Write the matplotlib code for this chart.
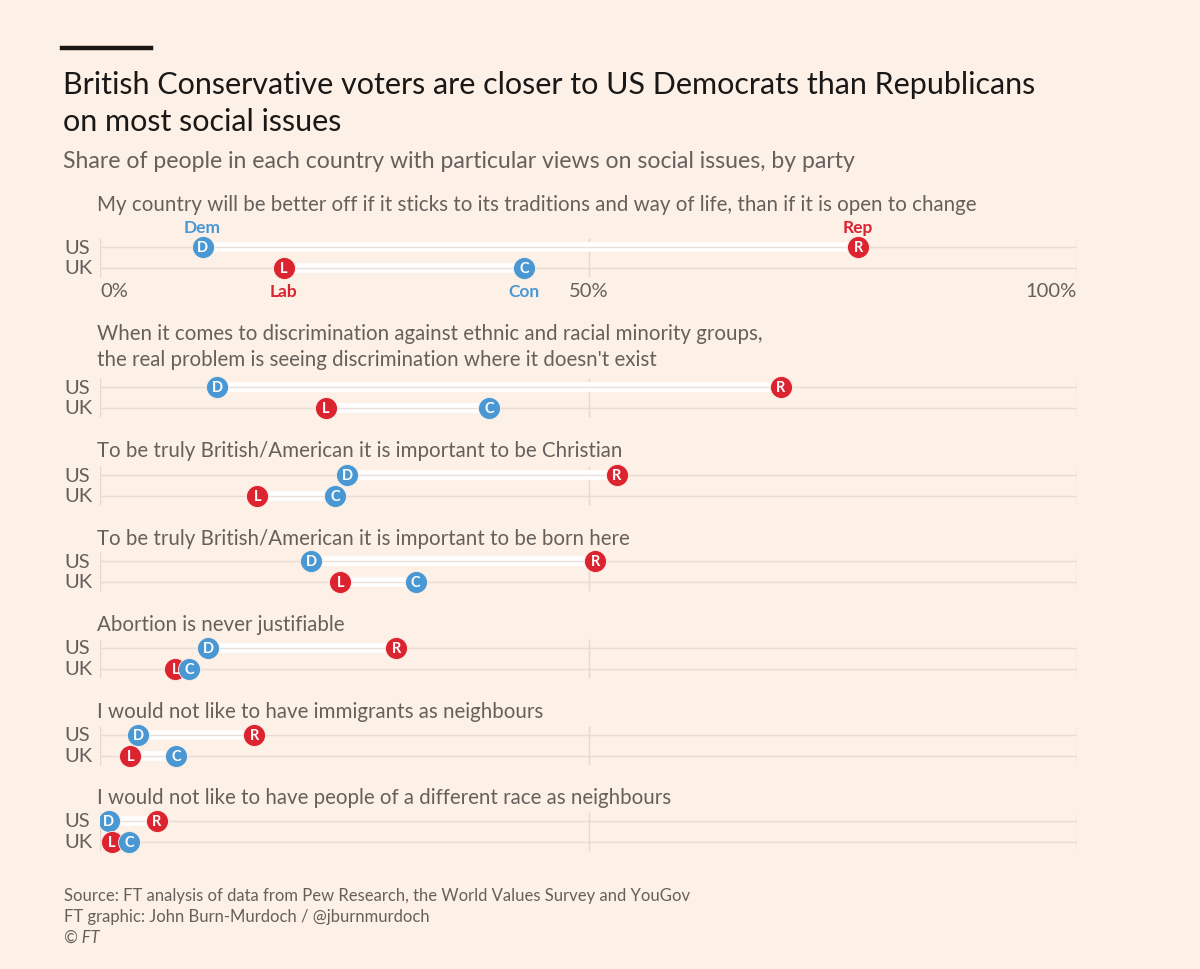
import numpy as np
import matplotlib.pyplot as plt

plt.rcParams['font.family'] = ['Lato', 'DejaVu Sans']

# data (share of people, %)
questions = [
    "My country will be better off if it sticks to its traditions and way of life, than if it is open to change",
    "When it comes to discrimination against ethnic and racial minority groups,\nthe real problem is seeing discrimination where it doesn't exist",
    "To be truly British/American it is important to be Christian",
    "To be truly British/American it is important to be born here",
    "Abortion is never justifiable",
    "I would not like to have immigrants as neighbours",
    "I would not like to have people of a different race as neighbours",
]
us_dem = [10.5, 12.0, 25.3, 21.6, 11.1, 3.9, 0.9]
us_rep = [77.6, 69.7, 52.9, 50.7, 30.3, 15.8, 5.8]
uk_lab = [18.8, 23.1, 16.1, 24.6, 7.7, 3.1, 1.2]
uk_con = [43.4, 39.8, 24.1, 32.3, 9.1, 7.8, 3.0]
tick_vals = [0, 50, 100]
tick_labels = ['0%', '50%', '100%']

BG = '#fdf0e6'
BLUE = '#4a98d3'
RED = '#dc2330'
GREY = '#66605c'
GRID = '#e3d9d0'

W, H = 1200, 970
fig = plt.figure(figsize=(W / 100, H / 100), dpi=100, facecolor=BG)


def fx(x):
    return x / W


def fy(y):
    return 1 - y / H


# header
fig.add_artist(plt.Line2D([fx(62), fx(151)], [fy(49), fy(49)], color='#1a1817', lw=3.2))
fig.text(fx(63), fy(85), "British Conservative voters are closer to US Democrats than Republicans",
         fontsize=22, color='#1a1817', va='center')
fig.text(fx(63), fy(122), "on most social issues", fontsize=22, color='#1a1817', va='center')
fig.text(fx(63), fy(162), "Share of people in each country with particular views on social issues, by party",
         fontsize=16.6, color=GREY, va='center')

# panel layout (pixel rows of the US line) and row gap
us_rows = [248, 388, 476, 562, 649, 736, 822]
q_rows = [205, 347, 451, 539, 625, 712, 798]
gap = 21
pad = 0.75
x0, x1 = 100, 1077

for i, q in enumerate(questions):
    top = us_rows[i] - pad * gap
    hgt = (1 + 2 * pad) * gap
    ax = fig.add_axes([fx(x0), fy(top + hgt), fx(x1 - x0), hgt / H])
    ax.set_xlim(0, 100)
    ax.set_ylim(1 + pad, -pad)
    ax.axis('off')
    ax.patch.set_alpha(0)

    for v in tick_vals:
        ax.plot([v, v], [-0.4, 1.4], color=GRID, lw=1, zorder=1)

    rows = [(0, us_dem[i], us_rep[i], BLUE, RED, 'D', 'R'),
            (1, uk_lab[i], uk_con[i], RED, BLUE, 'L', 'C')]
    for y, a, b, ca, cb, la, lb in rows:
        ax.plot([a, b], [y, y], color='white', lw=7, solid_capstyle='butt', zorder=2)
        ax.plot([0, 100], [y, y], color=GRID, lw=1, alpha=0.8, zorder=3)
        for val, col, lab in [(a, ca, la), (b, cb, lb)]:
            ax.scatter([val], [y], s=250, color=col, edgecolor=BG, linewidth=0.6, zorder=4)
            ax.text(val, y, lab, color='white', fontsize=10.5, fontweight='bold',
                    ha='center', va='center', zorder=5)

    fig.text(fx(64), fy(us_rows[i]), 'US', fontsize=14.5, color=GREY, va='center')
    fig.text(fx(64), fy(us_rows[i] + gap), 'UK', fontsize=14.5, color=GREY, va='center')
    fig.text(fx(97), fy(q_rows[i]), q, fontsize=14.8, color=GREY, va='center', linespacing=1.4)

    if i == 0:
        ax.text(us_dem[i], -0.95, 'Dem', color=BLUE, fontsize=12.5, fontweight='bold', ha='center', va='center')
        ax.text(us_rep[i], -0.95, 'Rep', color=RED, fontsize=12.5, fontweight='bold', ha='center', va='center')
        ax.text(uk_lab[i], 2.1, 'Lab', color=RED, fontsize=12.5, fontweight='bold', ha='center', va='center')
        ax.text(uk_con[i], 2.1, 'Con', color=BLUE, fontsize=12.5, fontweight='bold', ha='center', va='center')
        for v, t, ha in zip(tick_vals, tick_labels, ['left', 'center', 'right']):
            ax.text(v, 2.05, t, color=GREY, fontsize=14.5, ha=ha, va='center')
        for t in ax.texts:
            t.set_clip_on(False)

# footer
fig.text(fx(64), fy(896), "Source: FT analysis of data from Pew Research, the World Values Survey and YouGov",
         fontsize=12, color=GREY, va='center')
fig.text(fx(64), fy(917), "FT graphic: John Burn-Murdoch / @jburnmurdoch", fontsize=12, color=GREY, va='center')
fig.text(fx(64), fy(938), "© FT", fontsize=12, color=GREY, va='center', style='italic')

fig.savefig('out.png', dpi=100, facecolor=BG)
